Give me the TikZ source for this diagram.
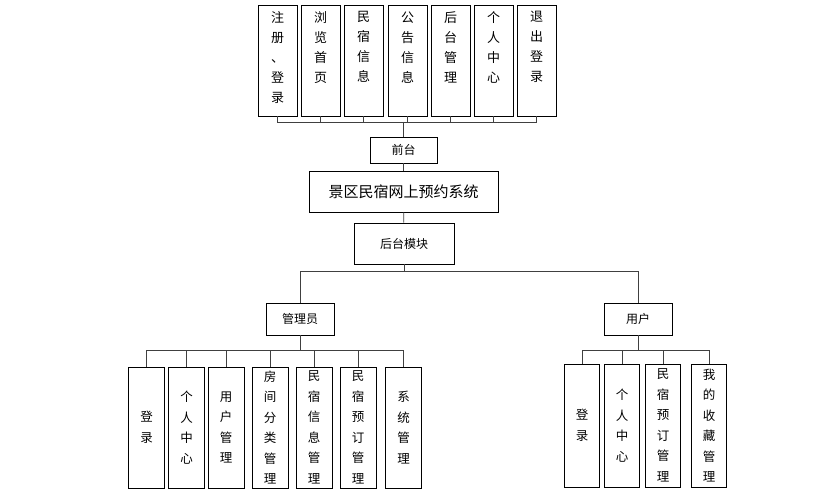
\documentclass[tikz,border=0pt]{standalone}
\usepackage{fontspec}
\newfontfamily\cjk{Noto Sans CJK SC}
\begin{document}
\begin{tikzpicture}[x=1pt,y=-1pt,
  box/.style={draw,line width=0.8pt,inner sep=0pt,font=\cjk\fontsize{13}{20}\selectfont,align=center},
  tbox/.style={box,minimum width=39pt,minimum height=111pt},
  bbox/.style={box,minimum width=36pt,minimum height=121pt,font=\cjk\fontsize{12.5}{20.5}\selectfont},
  ln/.style={line width=0.7pt,draw=black!75}]
\useasboundingbox (0,0) rectangle (835,500);
% top
\foreach \n/\x in {t1/277.5, t2/320.5, t3/363.5, t4/407.5, t5/450.5, t6/493.5, t7/536.5}
  \node[tbox] (\n) at (\x,60.5) {};
\foreach \n/\x/\t in {1/277.5/注\\册\\、\\登\\录, 2/320.5/浏\\览\\首\\页, 3/363.5/民\\宿\\信\\息, 4/407.5/公\\告\\信\\息, 5/450.5/后\\台\\管\\理, 6/493.5/个\\人\\中\\心, 7/536.5/退\\出\\登\\录}
  \node[box,draw=none,anchor=north] (lt\n) at (\x,11) {\t};
\node[box,minimum width=67pt,minimum height=26pt,font=\cjk\fontsize{12}{14}\selectfont] (fq) at (403.5,150) {前台};
\node[box,minimum width=189pt,minimum height=41pt,font=\cjk\fontsize{15}{18}\selectfont] (sys) at (403.5,191.5) {景区民宿网上预约系统};
\node[box,minimum width=100pt,minimum height=41pt,font=\cjk\fontsize{12}{14}\selectfont] (hq) at (404,243.5) {后台模块};
\node[box,minimum width=68pt,minimum height=32pt,font=\cjk\fontsize{12}{14}\selectfont] (adm) at (300,319) {管理员};
\node[box,minimum width=68pt,minimum height=32pt,font=\cjk\fontsize{12}{14}\selectfont] (usr) at (638,319) {用户};
\coordinate (bus) at (403.5,122);
\foreach \n in {t1,t2,t3,t4,t5,t6,t7} \draw[ln] (\n.south) |- (bus);
\draw[ln] (bus) -- (fq.north);
\draw[ln] (fq) -- (sys);
\draw[ln] (sys) -- (hq);
\coordinate (hb) at (404,271);
\draw[ln] (hq.south) -- (hb);
\draw[ln] (hb) -| (adm.north);
\draw[ln] (hb) -| (usr.north);
% admin
\coordinate (ab) at (300,350);
\draw[ln] (adm.south) -- (ab);
\foreach \n/\x/\t in {a1/146.5/登\\录, a2/186.5/个\\人\\中\\心, a3/226/用\\户\\管\\理, a4/270/房\\间\\分\\类\\管\\理, a5/314/民\\宿\\信\\息\\管\\理, a6/358/民\\宿\\预\\订\\管\\理, a7/403.5/系\\统\\管\\理}{
  \node[bbox] (\n) at (\x,427.5) {\t};
  \draw[ln] (ab) -| (\n.north);}
% user
\coordinate (ub) at (638,350);
\draw[ln] (usr.south) -- (ub);
\foreach \n/\x/\t in {u1/582/登\\录, u2/622/个\\人\\中\\心, u3/663/民\\宿\\预\\订\\管\\理, u4/709/我\\的\\收\\藏\\管\\理}{
  \node[bbox,minimum width=35pt,minimum height=123pt] (\n) at (\x,425.5) {\t};
  \draw[ln] (ub) -| (\n.north);}
\end{tikzpicture}
\end{document}
